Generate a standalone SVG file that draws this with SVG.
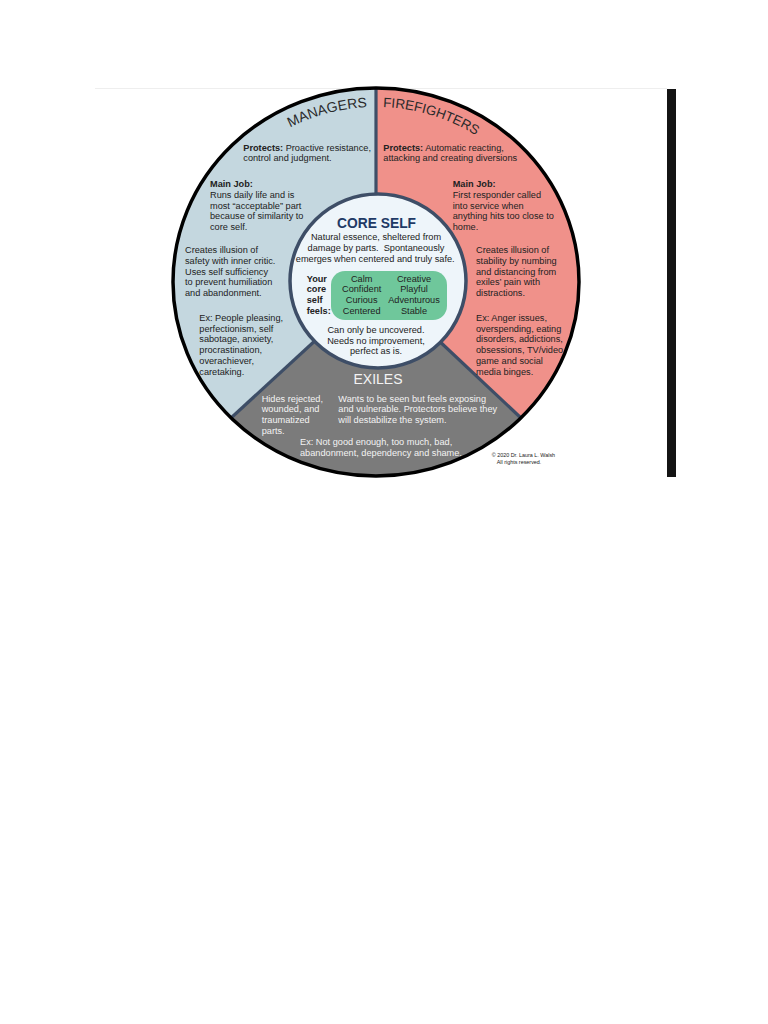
<svg xmlns="http://www.w3.org/2000/svg" width="768" height="1024" viewBox="0 0 768 1024">
<defs>
<style>
.t{font-family:"Liberation Sans",Arial,sans-serif;font-size:9.2px;fill:#222}
.b{font-weight:bold}
.hd{font-family:"Liberation Sans",Arial,sans-serif;font-size:14px;fill:#2a2a2a}
.w{fill:#f3f3f3}
.div{stroke:#3e4e67;stroke-width:3.2;fill:none}
.c{text-anchor:middle}
</style>
<path id="arcM" d="M193,282 A183,175 0 0 1 367,107.2"/>
<path id="arcF" d="M383,107.1 A183,175 0 0 1 559,282"/>
</defs>
<rect width="768" height="1024" fill="#fff"/>
<line x1="95" y1="88.5" x2="667" y2="88.5" stroke="#eeeeee" stroke-width="1"/>
<rect x="667" y="89" width="9" height="388" fill="#141414"/>

<g id="wheel">
<ellipse id="exiles-bg" cx="376" cy="282" rx="203" ry="194" fill="#7b7b7b"/>
<path id="managers-bg" d="M376,282 L376,88 A203,194 0 0 0 231,418 Z" fill="#c4d7df"/>
<path id="firefighters-bg" d="M376,282 L376,88 A203,194 0 0 1 521,418 Z" fill="#f0918a"/>
</g>

<g id="connectors">
<line class="div" x1="376" y1="88" x2="376" y2="200"/>
<line class="div" x1="318" y1="338" x2="231" y2="418"/>
<line class="div" x1="436" y1="338" x2="521" y2="418"/>
</g>

<ellipse id="outline" cx="376" cy="282" rx="203" ry="194" fill="none" stroke="#000" stroke-width="3.5"/>

<g id="managers">
<text class="hd"><textPath href="#arcM" startOffset="100%" text-anchor="end">MANAGERS</textPath></text>
<text class="t" x="243.3" y="150.7"><tspan class="b">Protects:</tspan> Proactive resistance,</text>
<text class="t" x="243.3" y="161.4">control and judgment.</text>
<text class="t b" x="210" y="187.3">Main Job:</text>
<text class="t" x="210" y="198">Runs daily life and is</text>
<text class="t" x="210" y="208.7">most “acceptable” part</text>
<text class="t" x="210" y="219.4">because of similarity to</text>
<text class="t" x="210" y="230.1">core self.</text>
<text class="t" x="185" y="253.3">Creates illusion of</text>
<text class="t" x="185" y="264">safety with inner critic.</text>
<text class="t" x="185" y="274.7">Uses self sufficiency</text>
<text class="t" x="185" y="285.4">to prevent humiliation</text>
<text class="t" x="185" y="296.1">and abandonment.</text>
<text class="t" x="199.3" y="321">Ex: People pleasing,</text>
<text class="t" x="199.3" y="331.7">perfectionism, self</text>
<text class="t" x="199.3" y="342.4">sabotage, anxiety,</text>
<text class="t" x="199.3" y="353.1">procrastination,</text>
<text class="t" x="199.3" y="363.8">overachiever,</text>
<text class="t" x="199.3" y="374.5">caretaking.</text>
</g>

<g id="firefighters">
<text class="hd" style="font-size:13.4px"><textPath href="#arcF" startOffset="0">FIREFIGHTERS</textPath></text>
<text class="t" x="383.3" y="150.7"><tspan class="b">Protects:</tspan> Automatic reacting,</text>
<text class="t" x="383.3" y="161.4">attacking and creating diversions</text>
<text class="t b" x="452.7" y="187.3">Main Job:</text>
<text class="t" x="452.7" y="198">First responder called</text>
<text class="t" x="452.7" y="208.7">into service when</text>
<text class="t" x="452.7" y="219.4">anything hits too close to</text>
<text class="t" x="452.7" y="230.1">home.</text>
<text class="t" x="476" y="253.3">Creates illusion of</text>
<text class="t" x="476" y="264">stability by numbing</text>
<text class="t" x="476" y="274.7">and distancing from</text>
<text class="t" x="476" y="285.4">exiles’ pain with</text>
<text class="t" x="476" y="296.1">distractions.</text>
<text class="t" x="476" y="321">Ex: Anger issues,</text>
<text class="t" x="476" y="331.7">overspending, eating</text>
<text class="t" x="476" y="342.4">disorders, addictions,</text>
<text class="t" x="476" y="353.1">obsessions, TV/video</text>
<text class="t" x="476" y="363.8">game and social</text>
<text class="t" x="476" y="374.5">media binges.</text>
</g>

<g id="exiles">
<text class="hd c" x="378" y="384" style="fill:#f3f3f3">EXILES</text>
<text class="t w" x="261.7" y="401.7">Hides rejected,</text>
<text class="t w" x="261.7" y="412.3">wounded, and</text>
<text class="t w" x="261.7" y="423">traumatized</text>
<text class="t w" x="261.7" y="433.6">parts.</text>
<text class="t w" x="338.3" y="401.7">Wants to be seen but feels exposing</text>
<text class="t w" x="338.3" y="412.3">and vulnerable. Protectors believe they</text>
<text class="t w" x="338.3" y="423">will destabilize the system.</text>
<text class="t w" x="300" y="445">Ex: Not good enough, too much, bad,</text>
<text class="t w" x="300" y="455.7">abandonment, dependency and shame.</text>
</g>

<g id="core-self">
<ellipse cx="378" cy="281" rx="88" ry="87" fill="#eef5fa" stroke="#3e4e67" stroke-width="3.5"/>
<text class="c" x="376.5" y="228.3" style="font-family:'Liberation Sans',Arial,sans-serif;font-size:15px;font-weight:bold;fill:#1f3a66" textLength="79" lengthAdjust="spacingAndGlyphs">CORE SELF</text>
<text class="t c" x="376" y="240.3">Natural essence, sheltered from</text>
<text class="t c" x="376" y="251" xml:space="preserve">damage by parts.  Spontaneously</text>
<text class="t c" x="375.2" y="261.7">emerges when centered and truly safe.</text>
<rect x="331" y="271" width="116" height="49" rx="14" fill="#6fc79b"/>
<text class="t b" x="306.7" y="281.7">Your</text>
<text class="t b" x="306.7" y="292.3">core</text>
<text class="t b" x="306.7" y="303">self</text>
<text class="t b" x="306.7" y="313.7">feels:</text>
<text class="t c" x="361.7" y="281.7">Calm</text>
<text class="t c" x="361.7" y="292.3">Confident</text>
<text class="t c" x="361.7" y="303">Curious</text>
<text class="t c" x="361.7" y="313.7">Centered</text>
<text class="t c" x="414" y="281.7">Creative</text>
<text class="t c" x="414" y="292.3">Playful</text>
<text class="t c" x="414" y="303">Adventurous</text>
<text class="t c" x="414" y="313.7">Stable</text>
<text class="t c" x="376" y="333">Can only be uncovered.</text>
<text class="t c" x="376" y="343.7">Needs no improvement,</text>
<text class="t c" x="376" y="354.3">perfect as is.</text>
</g>

<g id="copyright">
<text class="t" x="491.7" y="456.7" style="font-size:5.4px">© 2020 Dr. Laura L. Walsh</text>
<text class="t" x="496.7" y="464.3" style="font-size:5.4px">All rights reserved.</text>
</g>
</svg>
